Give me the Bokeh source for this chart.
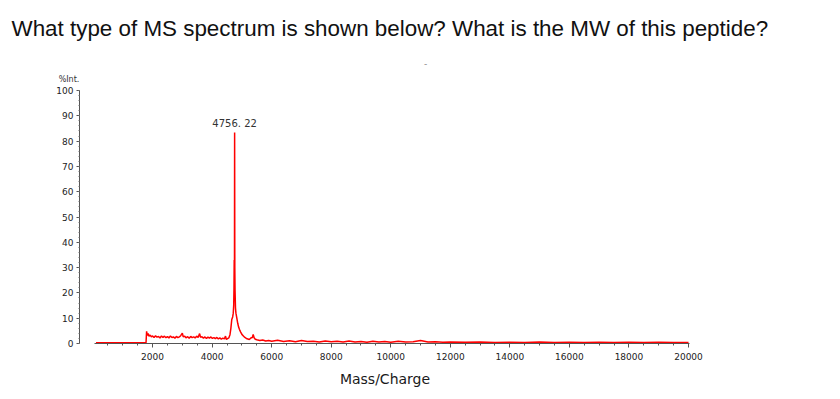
from bokeh.plotting import figure
from bokeh.layouts import column
from bokeh.models import Range1d, SingleIntervalTicker
from bokeh.core.properties import value
from bokeh.embed import file_html
from bokeh.resources import INLINE

# ---- data ----
mass = [100, 1000, 1780, 1800, 1820, 1850, 1880, 1920, 1960, 2000, 2050, 2100, 2150, 2200,
        2250, 2300, 2350, 2400, 2450, 2500, 2550, 2600, 2650, 2700, 2750, 2800, 2850, 2900,
        2950, 3000, 3030, 3080, 3120, 3180, 3230, 3280, 3330, 3380, 3430, 3480, 3530, 3580,
        3610, 3660, 3710, 3760, 3810, 3860, 3910, 3960, 4010, 4060, 4110, 4160, 4210, 4260,
        4310, 4360, 4410, 4450, 4480, 4520, 4560, 4600, 4630, 4660, 4690, 4710, 4725, 4735,
        4742, 4750, 4756, 4762, 4770, 4785, 4800, 4830, 4860, 4890, 4920, 4960, 5000, 5050,
        5100, 5150, 5200, 5250, 5300, 5350, 5380, 5410, 5450, 5500, 5600, 5700, 5800, 5900,
        6000, 6200, 6400, 6600, 6800, 7000, 7200, 7400, 7600, 7800, 8000, 8200, 8400, 8600,
        8800, 9000, 9200, 9400, 9600, 9800, 10000, 10250, 10500, 10750, 11000, 11250, 11500,
        11750, 12000, 12500, 13000, 13500, 14000, 14500, 15000, 15500, 16000, 16500, 17000,
        17500, 18000, 18500, 19000, 19500, 20000]
intensity = [0.3, 0.3, 0.3, 4.8, 3.2, 4.0, 2.9, 3.3, 2.6, 3.0, 2.4, 3.1, 2.5, 2.8,
             2.2, 3.0, 2.4, 2.9, 2.3, 2.7, 2.2, 3.0, 2.4, 2.6, 2.1, 2.8, 2.3, 2.6,
             3.2, 4.1, 2.6, 2.9, 2.2, 2.7, 2.1, 2.8, 2.3, 2.6, 2.2, 2.9, 2.4, 3.9,
             2.5, 2.7, 2.1, 2.6, 2.0, 2.5, 2.1, 2.6, 2.0, 2.3, 1.9, 2.4, 1.8, 2.2,
             1.7, 2.1, 1.8, 2.9, 1.6, 1.9, 2.2, 3.5, 6.0, 9.5, 10.5, 12.0, 15.0, 22.0,
             33.0, 20.0, 83.4, 30.0, 21.0, 14.0, 12.0, 10.0, 8.0, 6.5, 5.5, 4.5, 3.6, 3.0,
             2.4, 2.0, 1.8, 1.6, 2.2, 2.4, 3.6, 2.3, 1.7, 1.5, 1.2, 1.4, 1.0, 1.2,
             0.9, 1.3, 0.8, 1.1, 0.7, 1.2, 0.8, 0.9, 0.6, 1.0, 0.7, 0.9, 0.6, 1.0,
             0.6, 0.8, 0.5, 0.9, 0.6, 0.8, 0.5, 0.9, 0.6, 0.7, 1.2, 0.6, 0.7,
             0.5, 0.6, 0.5, 0.6, 0.4, 0.5, 0.4, 0.6, 0.4, 0.5, 0.4, 0.5,
             0.4, 0.5, 0.4, 0.5, 0.4, 0.4]
peak_mass = [4756.22]
peak_int = [83.4]
peak_text = ["4756. 22"]

title_text = "What type of MS spectrum is shown below? What is the MW of this peptide?"
x_label = "Mass/Charge"
y_label = "%Int."

TXT = "#333333"
W = 824
HEAD_H = 84

# ---- header strip (question text, "%Int." caption), pixel-like coordinates ----
head = figure(width=W, height=HEAD_H, output_backend="svg", toolbar_location=None,
              x_range=Range1d(0, W), y_range=Range1d(HEAD_H, 0),
              min_border=0, min_border_left=0, min_border_right=0,
              min_border_top=0, min_border_bottom=0)
head.frame_align = False
head.axis.visible = False
head.grid.visible = False
head.outline_line_color = None
head.text(x=[11], y=[28], text=[title_text], text_align="left", text_baseline="alphabetic",
          text_font=value("Liberation Sans"), text_font_size="22.4px", text_color="#111111")
head.text(x=[68.5], y=[79], text=[y_label], text_align="center", text_baseline="middle",
          text_font=value("DejaVu Sans"), text_font_size="8px", text_color=TXT)
head.text(x=[425], y=[63], text=["-"], text_align="center", text_baseline="middle",
          text_font=value("DejaVu Sans"), text_font_size="9px", text_color="#888888")

# ---- spectrum plot ----
p = figure(frame_width=611, frame_height=253,
           output_backend="svg", toolbar_location=None,
           x_range=Range1d(-454, 20067), y_range=Range1d(0, 100),
           min_border_left=79, min_border_right=134, min_border_top=6, min_border_bottom=40)
p.frame_align = False
p.outline_line_color = None
p.xgrid.visible = False
p.ygrid.visible = False

# x axis
p.xaxis.ticker = SingleIntervalTicker(interval=2000, num_minor_ticks=4)
p.xaxis.bounds = (50, 20050)
p.xaxis.axis_line_color = "#555555"
p.xaxis.major_tick_line_color = "#555555"
p.xaxis.minor_tick_line_color = "#555555"
p.xaxis.major_tick_out = 4
p.xaxis.major_tick_in = 0
p.xaxis.minor_tick_out = 2
p.xaxis.minor_tick_in = 0
p.xaxis.major_label_text_font = "DejaVu Sans"
p.xaxis.major_label_text_font_size = "9px"
p.xaxis.major_label_text_color = "#222222"
p.xaxis.major_label_standoff = 5
p.xaxis.axis_label = x_label
p.xaxis.axis_label_text_font = "DejaVu Sans"
p.xaxis.axis_label_text_font_size = "14px"
p.xaxis.axis_label_text_font_style = "normal"
p.xaxis.axis_label_text_color = "#1a1a1a"
p.xaxis.axis_label_standoff = 8

# y axis
p.yaxis.ticker = SingleIntervalTicker(interval=10, num_minor_ticks=5)
p.yaxis.axis_line_color = "#555555"
p.yaxis.major_tick_line_color = "#555555"
p.yaxis.minor_tick_line_color = "#777777"
p.yaxis.major_tick_out = 3
p.yaxis.major_tick_in = 0
p.yaxis.minor_tick_out = 1
p.yaxis.minor_tick_in = 0
p.yaxis.major_label_text_font = "DejaVu Sans"
p.yaxis.major_label_text_font_size = "9px"
p.yaxis.major_label_text_color = "#222222"
p.yaxis.major_label_standoff = 3

# spectrum
p.line(mass, intensity, line_color="#ff0000", line_width=1.5)
p.text(x=peak_mass, y=peak_int, text=peak_text, text_align="center", text_baseline="bottom",
       y_offset=-3, text_font=value("DejaVu Sans"), text_font_size="10px", text_color=TXT)

layout = column(head, p, spacing=0)
open("out.html", "w").write(file_html(layout, INLINE))
